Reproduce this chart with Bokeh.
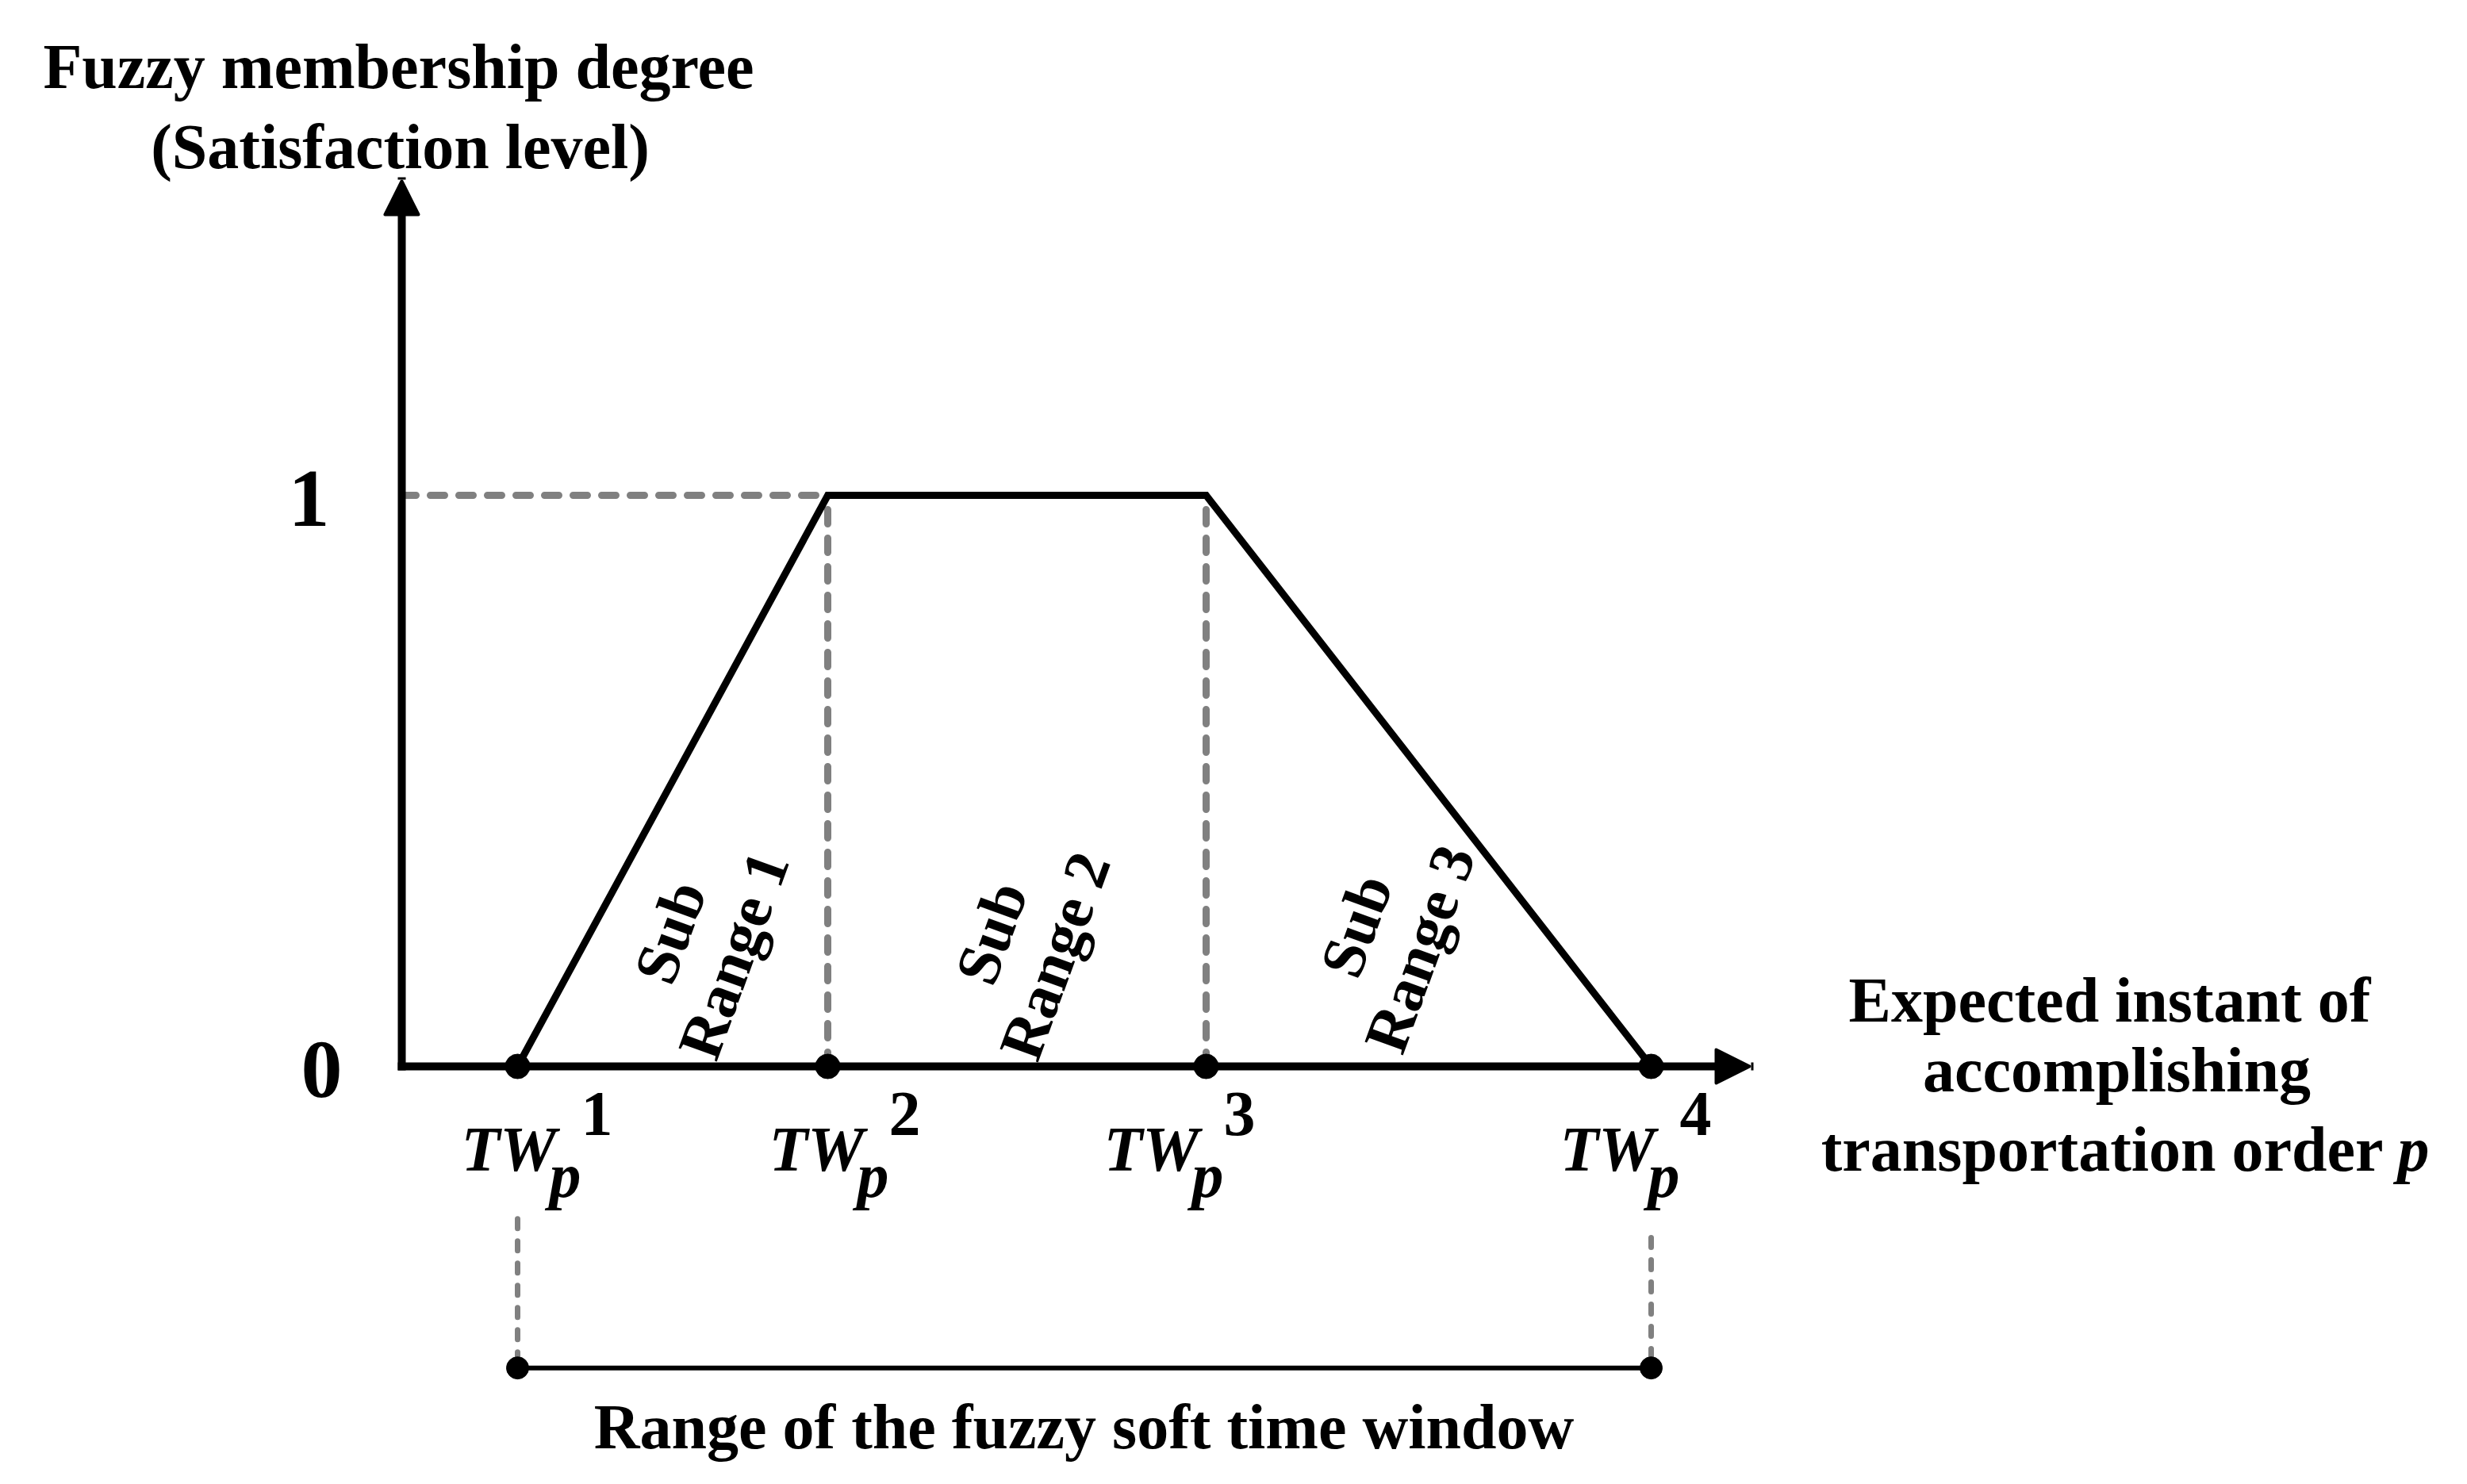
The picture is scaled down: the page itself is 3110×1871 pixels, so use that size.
from bokeh.plotting import figure
from bokeh.models import Range1d, Arrow, NormalHead
from bokeh.core.properties import value
from bokeh.embed import file_html
from bokeh.resources import INLINE

# ---------------- data ----------------
tw_x = [1.46, 5.37, 10.14, 15.75]          # TW_p^1 .. TW_p^4 (time axis units)
tw_sup = ["1", "2", "3", "4"]
membership = [0.0, 1.0, 1.0, 0.0]          # trapezoidal membership at TW points
y_ticks = [0.0, 1.0]
y_tick_labels = ["0", "1"]
sub_labels = ["Range 1", "Range 2", "Range 3"]
y_axis_top = 1.55
x_axis_end = 16.99
window_y = -0.528                          # level of the "range" bar
window_dash_top = [-0.267, -0.30]

# ---------------- figure ----------------
FONT = value("Liberation Serif")
p = figure(width=3094, height=1855,
           x_range=Range1d(-5.06, 25.88), y_range=Range1d(-0.70972, 1.86667),
           output_backend="svg", toolbar_location=None,
           x_axis_type=None, y_axis_type=None, min_border=0)
p.outline_line_color = None
p.background_fill_color = "white"
p.border_fill_color = "white"

GRAY = "#808080"

# dashed guide lines (behind)
p.line(x=[0, tw_x[1]], y=[membership[1], membership[1]], line_color=GRAY,
       line_width=9, line_dash="18 18", line_cap="round")
p.segment(x0=[tw_x[1], tw_x[2]], y0=[0, 0], x1=[tw_x[1], tw_x[2]],
          y1=[membership[1], membership[2]], line_color=GRAY,
          line_width=9, line_dash="18 18", line_cap="round")

# trapezoid membership function
p.line(x=tw_x, y=membership, line_color="black", line_width=9, line_join="miter")

# axes with arrows
for xs, ys, xe, ye in [(0, 0, 0, y_axis_top), (0, 0, x_axis_end, 0)]:
    p.add_layout(Arrow(x_start=xs, y_start=ys, x_end=xe, y_end=ye,
                       line_color="black", line_width=10, line_cap="square",
                       end=NormalHead(size=42, fill_color="black", line_color="black",
                                      line_width=4, line_join="round")))

# points on time axis
p.scatter(x=tw_x, y=[0] * 4, size=31, marker="circle", color="black")

# range of the fuzzy soft time window
p.segment(x0=[tw_x[0], tw_x[3]], y0=window_dash_top, x1=[tw_x[0], tw_x[3]],
          y1=[window_y - 0.005, window_y - 0.005], line_color=GRAY,
          line_width=7, line_dash="12 16", line_cap="round")
p.line(x=[tw_x[0], tw_x[3]], y=[window_y, window_y], line_color="black", line_width=6)
p.scatter(x=[tw_x[0], tw_x[3]], y=[window_y, window_y], size=28, marker="circle", color="black")

common = dict(text_font=FONT, text_font_style="bold", text_color="black")
MID = dict(text_baseline="middle", y_offset=8)

# y tick labels
p.text(x=[-1.01, -1.17], y=y_ticks, text=y_tick_labels, text_font_size="104px",
       text_align="center", text_baseline="middle", y_offset=4, **common)

# y axis title
p.text(x=[-0.04, -0.02], y=[1.7618, 1.6222],
       text=["Fuzzy membership degree", "(Satisfaction level)"],
       text_font_size="80px", text_align="center", **MID, **common)

# x axis title
p.text(x=[21.63, 21.62], y=[0.1264, 0.0042],
       text=["Expected  instant of", "accomplishing"],
       text_font_size="80px", text_align="center", **MID, **common)
p.text(x=[24.98], y=[-0.1347], text=["transportation order"],
       text_font_size="80px", text_align="right", **MID, **common)
p.text(x=[25.16], y=[-0.1347], text=["p"], text_font=FONT, text_font_style="bold italic",
       text_color="black", text_font_size="80px", text_align="left", **MID)

# TW labels (anchor = right edge of "TW")
tw_label_right = [1.95, 5.83, 10.05, 15.80]
p.text(x=tw_label_right, y=[-0.1347] * 4, text=["TW"] * 4, text_font=FONT,
       text_font_style="bold italic", text_color="black", text_font_size="80px",
       text_align="right", **MID)
p.text(x=tw_label_right, y=[-0.1799] * 4, text=["p"] * 4, text_font=FONT,
       text_font_style="bold italic", text_color="black", text_font_size="80px",
       text_align="center", x_offset=11, **MID)
p.text(x=tw_label_right, y=[-0.0847] * 4, text=tw_sup, text_font_size="80px",
       text_align="center", text_baseline="middle", x_offset=51, y_offset=-1, **common)

# sub range labels (rotated)
sr_x = [3.78, 7.83, 12.43]
sr_y = [0.2153, 0.2139, 0.2264]
ang = 1.2217
p.text(x=sr_x, y=sr_y, text=["Sub"] * 3, angle=ang, text_font_size="78px",
       text_align="center", text_baseline="middle", x_offset=-40, y_offset=-14.5, **common)
p.text(x=sr_x, y=sr_y, text=sub_labels, angle=ang, text_font_size="78px",
       text_align="center", text_baseline="middle", x_offset=40, y_offset=14.5, **common)

# bottom caption
p.text(x=[8.60], y=[-0.6208], text=["Range of the fuzzy soft time window"],
       text_font_size="80px", text_align="center", **MID, **common)

open("out.html", "w").write(file_html(p, INLINE))
